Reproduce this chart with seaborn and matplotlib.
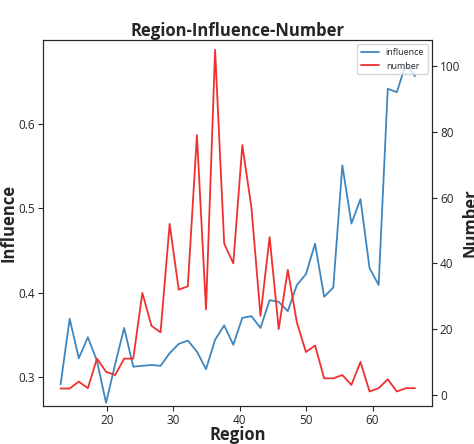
import numpy as np
import pandas as pd
import matplotlib
matplotlib.use("Agg")
import matplotlib.pyplot as plt
import seaborn as sns

region = list(np.round(np.linspace(13, 66.4, 40), 2))
influence = [0.291,0.369,0.322,0.347,0.319,0.269,0.315,0.358,0.312,0.313,0.314,0.313,0.328,0.339,0.343,0.330,
             0.309,0.344,0.361,0.338,0.370,0.372,0.358,0.391,0.389,0.378,0.409,0.422,0.458,0.395,0.406,0.551,
             0.482,0.511,0.429,0.409,0.642,0.638,0.672,0.657]
number = [1.9,1.9,4,2,11,7,6,11,11,31,21,19,52,32,33,79,26,105,46,40,76,57,24,48,20,38,22,13,15,5,5,6,3,10,1,2,4.7,1,2,2]

df = pd.DataFrame({"Region": region, "Influence": influence, "Number": number})

sns.set_style("ticks")
plt.rcParams['font.family'] = ['Open Sans', 'DejaVu Sans']
fig, ax = plt.subplots(figsize=(4.74, 4.44), dpi=100)
fig.subplots_adjust(left=0.09, right=0.912, top=0.91, bottom=0.085)
sns.lineplot(data=df, x="Region", y="Influence", ax=ax, color="#3f86bf", lw=1.3, label="influence", legend=False)
ax2 = ax.twinx()
sns.lineplot(data=df, x="Region", y="Number", ax=ax2, color="#f03030", lw=1.3, label="number", legend=False)
ax.set_xlim(10.3, 69)
ax.set_ylim(0.265, 0.7)
ax2.set_ylim(-3.5, 108)
ax.set_xticks([20, 30, 40, 50, 60])
ax.set_yticks([0.3, 0.4, 0.5, 0.6])
ax2.set_yticks([0, 20, 40, 60, 80, 100])
ax.set_xlabel("Region", fontsize=12, fontweight="bold", labelpad=-1)
ax.set_ylabel("Influence", fontsize=12, fontweight="bold", labelpad=1)
ax2.set_ylabel("Number", fontsize=12, fontweight="bold", labelpad=1)
ax.set_title("Region-Influence-Number", fontsize=12, fontweight="bold", pad=3)
for a in (ax, ax2):
    a.tick_params(labelsize=8.5, pad=2)
h1, l1 = ax.get_legend_handles_labels()
h2, l2 = ax2.get_legend_handles_labels()
ax2.legend(h1 + h2, l1 + l2, loc="upper right", fontsize=6.5, frameon=True)
fig.savefig("out.png", dpi=100)
